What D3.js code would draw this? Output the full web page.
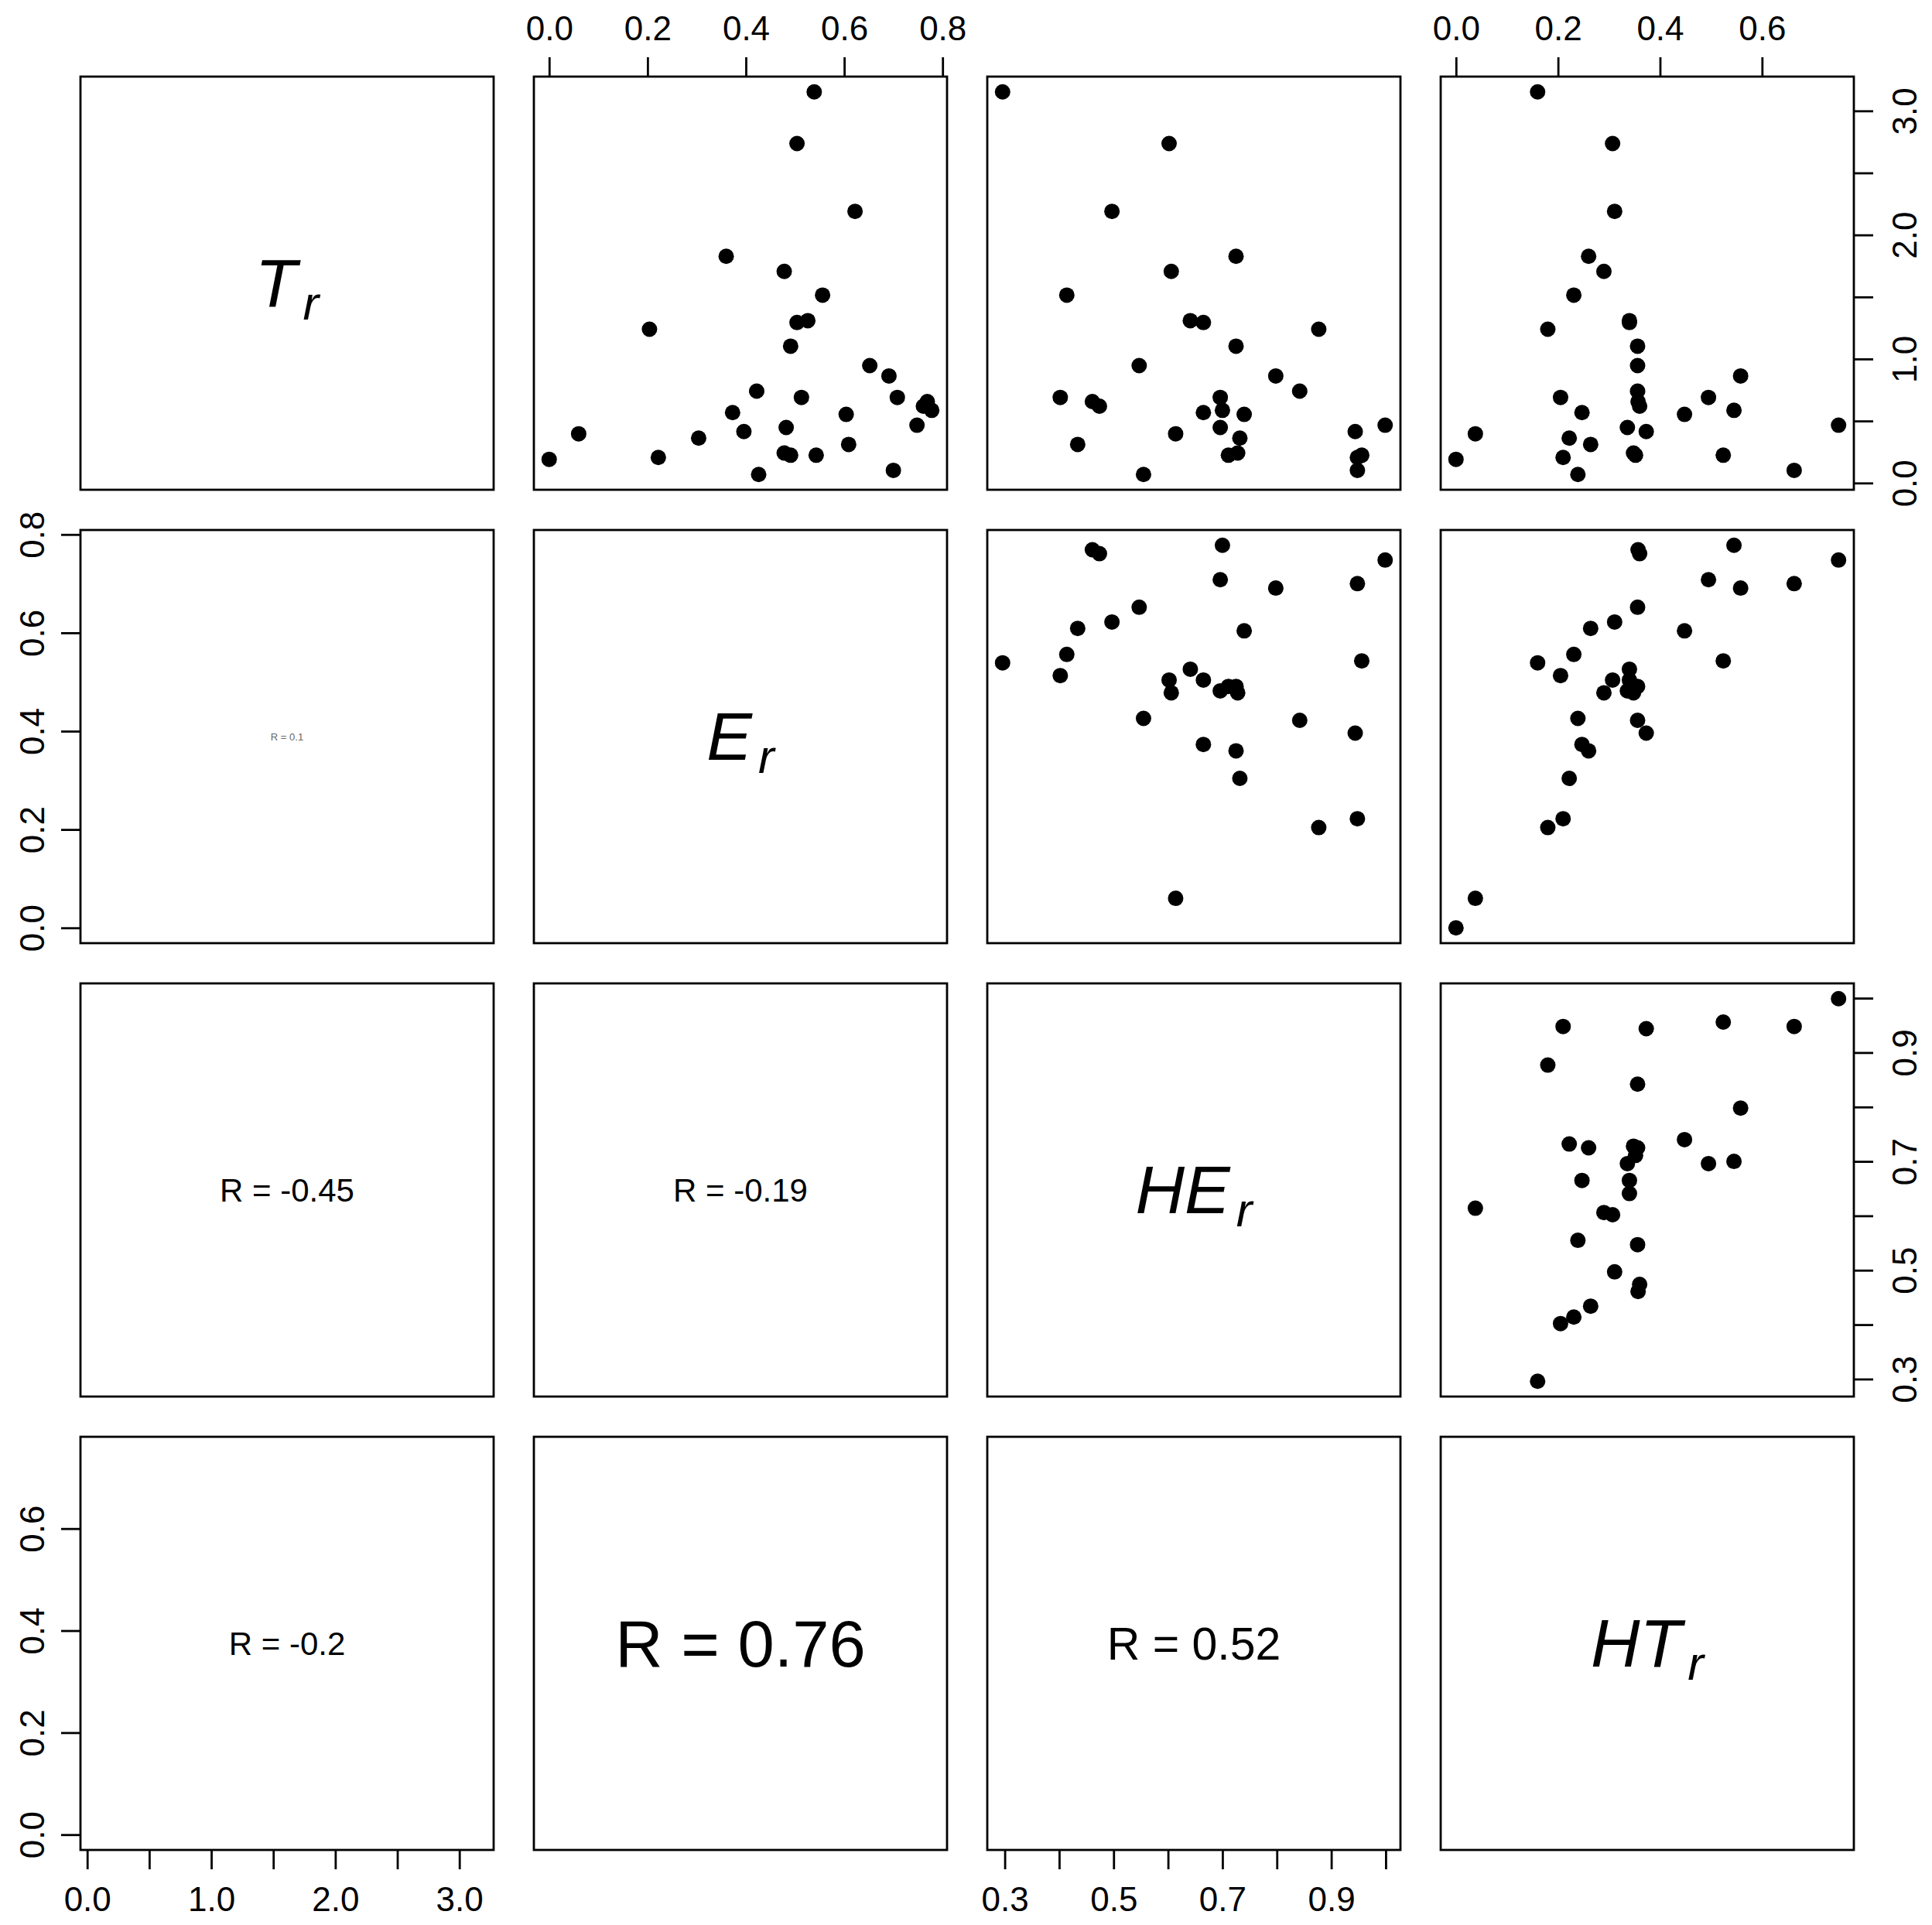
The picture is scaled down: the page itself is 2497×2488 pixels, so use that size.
<!DOCTYPE html>
<html>
<head>
<meta charset="utf-8">
<script src="https://cdn.jsdelivr.net/npm/d3@7"></script>
<style>
  body { margin: 0; background: #fff; }
  svg { display: block; font-family: "Liberation Sans", Arial, sans-serif; }
</style>
</head>
<body>
<div id="chart"></div>
<script>
// variables of the scatterplot matrix, in row/column order
const varKeys = ['T', 'E', 'HE', 'HT'];
const diagMain = ['T', 'E', 'HE', 'HT'];
const diagSub = ['r', 'r', 'r', 'r'];

// observations (HE has one missing value)
const T  = [3.153, 2.737, 2.190, 1.828, 1.706, 1.515, 1.309, 1.294, 1.240, 1.103, 0.947,
            0.863, 0.741, 0.690, 0.690, 0.657, 0.619, 0.586, 0.568, 0.553, 0.466, 0.448,
            0.415, 0.397, 0.362, 0.311, 0.242, 0.224, 0.224, 0.206, 0.191, 0.102, 0.069];
const E  = [0.539, 0.504, 0.622, 0.360, 0.478, 0.556, 0.526, 0.504, 0.204, 0.491, 0.652,
            0.691, 0.422, 0.513, 0.708, 0.769, 0.761, 0.778, 0.373, 0.604, 0.748, 0.482,
            0.396, 0.060, 0.304, 0.609, 0.478, 0.491, 0.543, 0.222, 0.000, 0.700, 0.426];
const HE = [0.296, 0.602, 0.497, 0.725, 0.606, 0.414, 0.641, 0.665, 0.877, 0.725, 0.547,
            0.798, 0.842, 0.402, 0.696, 0.461, 0.474, 0.700, 0.665, 0.740, 0.999, 0.696,
            0.944, 0.614, 0.732, 0.434, 0.728, 0.711, 0.956, 0.948, null, 0.948, 0.555];
const HT = [0.160, 0.307, 0.311, 0.260, 0.290, 0.231, 0.340, 0.340, 0.180, 0.356, 0.356,
            0.558, 0.356, 0.205, 0.495, 0.357, 0.360, 0.545, 0.247, 0.448, 0.750, 0.336,
            0.373, 0.038, 0.222, 0.264, 0.348, 0.352, 0.524, 0.210, 0.000, 0.663, 0.239];

// tick marks and which of them carry a label
const tickValues = {
    T: [0, 0.5, 1, 1.5, 2, 2.5, 3],
    E: [0, 0.2, 0.4, 0.6, 0.8],
    HE: [0.3, 0.4, 0.5, 0.6, 0.7, 0.8, 0.9, 1.0],
    HT: [0, 0.2, 0.4, 0.6]
};
const tickLabels = {
    T: [0, 1, 2, 3],
    E: [0, 0.2, 0.4, 0.6, 0.8],
    HE: [0.3, 0.5, 0.7, 0.9],
    HT: [0, 0.2, 0.4, 0.6]
};

// lower panels: correlation text
const corrRows = [1, 2, 2, 3, 3, 3];
const corrCols = [0, 0, 1, 0, 1, 2];
const corrValues = [0.1, -0.45, -0.19, -0.2, 0.76, 0.52];

// layout
const W = 2497, H = 2488;
const offsetX = 104, offsetY = 99, size = 534, step = 586;
const corrFontSize = [13, 42, 42, 42, 85, 59];

const svg = d3.select('#chart').append('svg').attr('width', W).attr('height', H);
svg.append('rect').attr('width', W).attr('height', H).attr('fill', '#fff');

const cols = { T, E, HE, HT };
const data = T.map((t, i) => ({ T: t, E: E[i], HE: HE[i], HT: HT[i] }));

// R-style ranges: data range widened by 4% on each side
const domains = {};
varKeys.forEach(k => {
    const [lo, hi] = d3.extent(cols[k].filter(v => v != null));
    const pad = (hi - lo) * 0.04;
    domains[k] = [lo - pad, hi + pad];
});
const xScale = k => d3.scaleLinear().domain(domains[k]).range([0, size]);
const yScale = k => d3.scaleLinear().domain(domains[k]).range([size, 0]);

const panel = (i, j) => svg.append('g').attr('transform', `translate(${offsetX + j * step},${offsetY + i * step})`);

for (let i = 0; i < 4; i++) {
    for (let j = 0; j < 4; j++) {
        const g = panel(i, j);

        if (i === j) {
            const t = g.append('text')
                .attr('x', size / 2).attr('y', size / 2 + 30)
                .attr('text-anchor', 'middle')
                .style('font-style', 'italic')
                .style('font-size', '88px')
                .attr('fill', '#000');
            t.append('tspan').text(diagMain[i]);
            t.append('tspan').attr('dx', 8).attr('dy', 17).style('font-size', '62px').text(diagSub[i]);
        } else if (j > i) {
            const xs = xScale(varKeys[j]);
            const ys = yScale(varKeys[i]);
            const pts = data.filter(d => d[varKeys[j]] != null && d[varKeys[i]] != null);
            g.selectAll('circle').data(pts).enter().append('circle')
                .attr('cx', d => xs(d[varKeys[j]]))
                .attr('cy', d => ys(d[varKeys[i]]))
                .attr('r', 10)
                .attr('fill', '#000');
        }

        g.append('rect')
            .attr('width', size).attr('height', size)
            .attr('fill', 'none').attr('stroke', '#000').attr('stroke-width', 2.8);
    }
}

corrValues.forEach((r, n) => {
    const fs = corrFontSize[n];
    panel(corrRows[n], corrCols[n]).append('text')
        .attr('x', size / 2)
        .attr('y', size / 2 + fs * 0.358)
        .attr('text-anchor', 'middle')
        .style('font-size', fs + 'px')
        .attr('fill', fs < 20 ? '#666' : '#000')
        .text('R = ' + r);
});

// axes sit on the outer panels, alternating sides like pairs()
const axisSpecs = [
    { row: 0, col: 1, side: 'top', key: 'E' },
    { row: 0, col: 3, side: 'top', key: 'HT' },
    { row: 0, col: 3, side: 'right', key: 'T' },
    { row: 1, col: 0, side: 'left', key: 'E' },
    { row: 2, col: 3, side: 'right', key: 'HE' },
    { row: 3, col: 0, side: 'left', key: 'HT' },
    { row: 3, col: 0, side: 'bottom', key: 'T' },
    { row: 3, col: 2, side: 'bottom', key: 'HE' }
];
const fmt = d3.format('.1f');

axisSpecs.forEach(spec => {
    const horizontal = spec.side === 'top' || spec.side === 'bottom';
    const scale = horizontal ? xScale(spec.key) : yScale(spec.key);
    const labels = tickLabels[spec.key];
    const maker = { top: d3.axisTop, bottom: d3.axisBottom, left: d3.axisLeft, right: d3.axisRight }[spec.side];
    const axis = maker(scale)
        .tickValues(tickValues[spec.key])
        .tickSize(25)
        .tickPadding(22.5)
        .tickFormat(v => labels.some(l => Math.abs(l - v) < 1e-9) ? fmt(v) : '');

    const g = panel(spec.row, spec.col);
    if (spec.side === 'bottom') g.attr('transform', `translate(${offsetX + spec.col * step},${offsetY + spec.row * step + size})`);
    if (spec.side === 'right') g.attr('transform', `translate(${offsetX + spec.col * step + size},${offsetY + spec.row * step})`);

    g.call(axis)
        .attr('font-family', null)
        .attr('font-size', 44);
    g.select('.domain').remove();
    g.selectAll('.tick line').attr('stroke', '#000').attr('stroke-width', 2.8);
    g.selectAll('.tick text').attr('fill', '#000');

    if (!horizontal) {
        g.selectAll('.tick text')
            .attr('transform', 'rotate(-90)')
            .attr('x', 0)
            .attr('y', spec.side === 'left' ? -47.5 : 80.5)
            .attr('dy', null)
            .attr('text-anchor', 'middle');
    }
});
</script>
</body>
</html>
